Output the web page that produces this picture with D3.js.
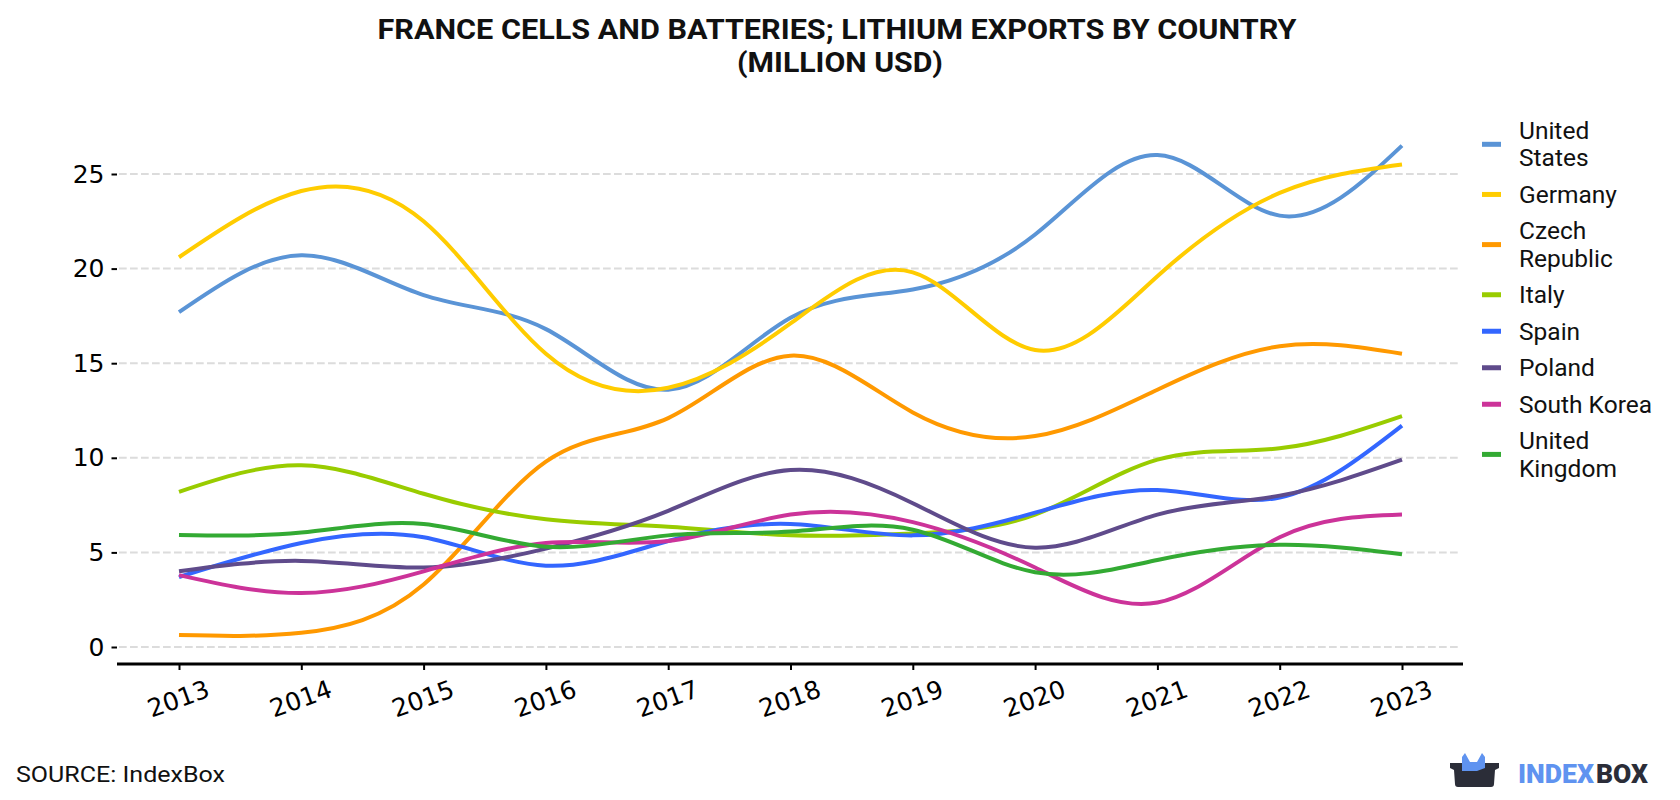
<!DOCTYPE html>
<html>
<head>
<meta charset="utf-8">
<script src="https://cdn.jsdelivr.net/npm/d3@7"></script>
<style>
  body { margin: 0; background: #fff; }
  svg { display: block; }
</style>
</head>
<body>
<div id="chart"></div>
<script>
// data
const years = [2013, 2014, 2015, 2016, 2017, 2018, 2019, 2020, 2021, 2022, 2023];
const countries = ["United States", "Germany", "Czech Republic", "Italy", "Spain", "Poland", "South Korea", "United Kingdom"];
const legendLines = [["United", "States"], ["Germany"], ["Czech", "Republic"], ["Italy"], ["Spain"], ["Poland"], ["South Korea"], ["United", "Kingdom"]];
const colors = ["#5a94d6", "#ffcc00", "#ff9900", "#99cc00", "#3366ff", "#5f4b8b", "#cc3399", "#33aa33"];

const usValues      = [17.7, 20.7, 18.6, 16.8, 13.6, 17.4, 18.9, 21.8, 26.0, 22.8, 26.5];
const germanyValues = [20.6, 24.1, 22.5, 15.5, 13.7, 17.1, 19.8, 15.7, 19.6, 24.0, 25.5];
const czechValues   = [0.63, 0.75, 3.3, 9.8, 12.1, 15.4, 12.4, 11.15, 13.6, 15.9, 15.5];
const italyValues   = [8.2, 9.6, 8.1, 6.75, 6.35, 5.9, 6.0, 7.0, 9.9, 10.5, 12.2];
const spainValues   = [3.7, 5.5, 5.8, 4.3, 5.6, 6.5, 5.9, 7.1, 8.3, 7.9, 11.7];
const polandValues  = [4.0, 4.55, 4.2, 5.2, 7.2, 9.35, 7.6, 5.25, 7.0, 8.0, 9.9];
const koreaValues   = [3.8, 2.85, 4.0, 5.5, 5.6, 7.0, 6.6, 4.2, 2.35, 5.8, 7.0];
const ukValues      = [5.92, 6.05, 6.5, 5.3, 5.9, 6.1, 6.2, 3.95, 4.6, 5.4, 4.9];

const seriesValues = [usValues, germanyValues, czechValues, italyValues, spainValues, polandValues, koreaValues, ukValues];
const yTicks = [0, 5, 10, 15, 20, 25];

const width = 1680, height = 800;

const svg = d3.select("#chart").append("svg")
    .attr("width", width)
    .attr("height", height);

// title
const title = svg.append("g")
    .attr("font-family", "Roboto, sans-serif")
    .attr("font-weight", 700)
    .attr("font-size", 28)
    .attr("fill", "#111")
    .attr("text-anchor", "middle");
title.append("text")
    .attr("x", 837).attr("y", 39)
    .attr("textLength", 919).attr("lengthAdjust", "spacingAndGlyphs")
    .text("FRANCE CELLS AND BATTERIES; LITHIUM EXPORTS BY COUNTRY");
title.append("text")
    .attr("x", 840).attr("y", 72)
    .attr("textLength", 206).attr("lengthAdjust", "spacingAndGlyphs")
    .text("(MILLION USD)");

// scales
const x = d3.scaleLinear().domain([2013, 2023]).range([179, 1402]);
const y = d3.scaleLinear().domain([0, 25]).range([647, 174]);
const axisLeftX = 117, axisRightX = 1463, axisY = 664;

// gridlines
svg.append("g")
    .selectAll("line")
    .data(yTicks)
    .join("line")
    .attr("x1", axisLeftX + 2)
    .attr("x2", 1461)
    .attr("y1", d => y(d))
    .attr("y2", d => y(d))
    .attr("stroke", "#dcdcdc")
    .attr("stroke-width", 2)
    .attr("stroke-dasharray", "7.7,3.3");

// y axis (ticks + labels, no spine)
const yAxis = svg.append("g")
    .attr("transform", `translate(${axisLeftX},0)`)
    .call(d3.axisLeft(y).tickValues(yTicks).tickSize(5.5).tickPadding(7).tickFormat(d3.format("d")));
yAxis.select(".domain").remove();
yAxis.selectAll(".tick line").attr("stroke", "#000").attr("stroke-width", 2);
yAxis.selectAll(".tick text")
    .attr("font-family", "DejaVu Sans, sans-serif")
    .attr("font-size", 25)
    .attr("fill", "#000");

// x axis
const xAxis = svg.append("g")
    .attr("transform", `translate(0,${axisY})`)
    .call(d3.axisBottom(x).tickValues(years).tickSize(6).tickFormat(d3.format("d")));
xAxis.select(".domain").remove();
xAxis.append("line")
    .attr("x1", axisLeftX).attr("x2", axisRightX)
    .attr("stroke", "#000").attr("stroke-width", 3);
xAxis.selectAll(".tick line").attr("stroke", "#000").attr("stroke-width", 2);
xAxis.selectAll(".tick text")
    .attr("font-family", "DejaVu Sans, sans-serif")
    .attr("font-size", 25)
    .attr("fill", "#000")
    .attr("y", 0)
    .attr("dy", null)
    .attr("text-anchor", "middle")
    .attr("dominant-baseline", "central")
    .attr("transform", "translate(-1,35) rotate(-20)");

// lines
const line = d3.line()
    .x((d, i) => x(years[i]))
    .y(d => y(d))
    .curve(d3.curveNatural);

svg.append("g")
    .selectAll("path")
    .data(seriesValues)
    .join("path")
    .attr("d", d => line(d))
    .attr("fill", "none")
    .attr("stroke", (d, i) => colors[i])
    .attr("stroke-width", 4);

// legend
const lineGap = 27.3, entryBase = 36.5;
let legendTop = 112.4;
const legend = svg.append("g")
    .attr("font-family", "Roboto, sans-serif")
    .attr("font-size", 24.5)
    .attr("fill", "#111");
countries.forEach((c, i) => {
    const lines = legendLines[i];
    const h = entryBase + (lines.length - 1) * lineGap;
    const cy = legendTop + h / 2;
    legend.append("line")
        .attr("x1", 1482).attr("x2", 1501)
        .attr("y1", cy).attr("y2", cy)
        .attr("stroke", colors[i])
        .attr("stroke-width", 5);
    const t = legend.append("text").attr("x", 1519);
    lines.forEach((l, j) => {
        t.append("tspan")
            .attr("x", 1519)
            .attr("y", cy + 8.5 + (j - (lines.length - 1) / 2) * lineGap)
            .text(l);
    });
    legendTop += h;
});

// source
svg.append("text")
    .attr("x", 16).attr("y", 782)
    .attr("font-family", "Roboto, sans-serif")
    .attr("font-size", 22)
    .attr("fill", "#111")
    .attr("textLength", 209).attr("lengthAdjust", "spacingAndGlyphs")
    .text("SOURCE: IndexBox");

// logo
const logo = svg.append("g");
logo.append("path")
    .attr("d", "M1450,763 L1499,763 L1499,768 L1495,770 L1494,784 Q1494,787 1491,787 L1458,787 Q1455,787 1455,784 L1454,770 L1450,768 Z")
    .attr("fill", "#2b2d38");
logo.append("path")
    .attr("d", "M1462,771 L1462,757 L1465,753 L1470,762 L1477,762 L1482,753 L1485,757 L1485,768 L1477,771 Z")
    .attr("fill", "#5f93f0");
logo.append("text")
    .attr("x", 1518).attr("y", 783)
    .attr("font-family", "Roboto, sans-serif").attr("font-weight", 900)
    .attr("font-size", 26).attr("fill", "#5f93f0")
    .attr("textLength", 76).attr("lengthAdjust", "spacingAndGlyphs")
    .text("INDEX");
logo.append("text")
    .attr("x", 1596).attr("y", 783)
    .attr("font-family", "Roboto, sans-serif").attr("font-weight", 900)
    .attr("font-size", 26).attr("fill", "#2b2d38")
    .attr("textLength", 52).attr("lengthAdjust", "spacingAndGlyphs")
    .text("BOX");
</script>
</body>
</html>
